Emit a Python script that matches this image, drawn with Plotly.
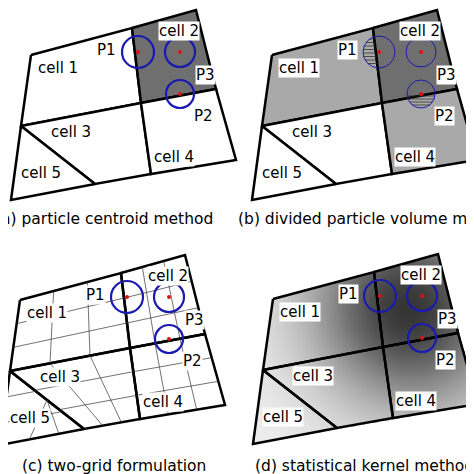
import numpy as np
import plotly.graph_objects as go

# mesh nodes (local pixel coords of one panel, y down)
node_names = ["A", "B", "C", "D", "E", "F", "G", "H", "I", "J"]
node_x = [23, 124, 188, 13, 133, 208, 3, 87, 143, 228]
node_y = [47, 20, 2, 118, 95, 81, 192, 176, 166, 152]

cell_names = ["cell 1", "cell 2", "cell 3", "cell 4", "cell 5"]
cell_nodes = [["A", "B", "E", "D"], ["B", "C", "F", "E"], ["D", "E", "I", "H"],
              ["E", "F", "J", "I"], ["D", "H", "G"]]
cell_label_x = [50, 171, 63, 166, 33]
cell_label_y = [60, 23, 124, 149, 165]

particle_names = ["P1", "P2", "P3"]
particle_x = [130, 172, 172]
particle_y = [44, 86, 44]
particle_r = [16, 14, 15]
plabel_x = [98, 195, 197]
plabel_y = [42, 108, 67]

panel_titles = ["(a) particle centroid method", "(b) divided particle volume method",
                "(c) two-grid formulation", "(d) statistical kernel method"]
panel_dx = [0, 241, -11, 242]
panel_dy = [0, 0, 245, 244]
title_x = [96, 228, 106, 356]
title_y = [211, 211, 458, 458]
title_anchor = ["center", "left", "center", "center"]

fill_a = ["white", "#6f6f6f", "white", "white", "white"]
fill_b = ["#a9a9a9", "#6f6f6f", "white", "#a9a9a9", "white"]

nx = dict(zip(node_names, node_x))
ny = dict(zip(node_names, node_y))

fig = go.Figure()


def poly(names, dx, dy):
    xs = [nx[n] + dx for n in names] + [nx[names[0]] + dx]
    ys = [ny[n] + dy for n in names] + [ny[names[0]] + dy]
    return xs, ys


def inside(px, py, xs, ys):
    res = np.zeros(px.shape, bool)
    n = len(xs) - 1
    for i in range(n):
        x1, y1, x2, y2 = xs[i], ys[i], xs[i + 1], ys[i + 1]
        cond = ((y1 > py) != (y2 > py)) & (px < (x2 - x1) * (py - y1) / (y2 - y1 + 1e-9) + x1)
        res ^= cond
    return res


def seg(x, y, w=0.7):
    fig.add_trace(go.Scatter(x=x, y=y, mode="lines", line=dict(color="#333", width=w), hoverinfo="skip"))


for p in range(4):
    dx, dy = panel_dx[p], panel_dy[p]

    # kernel shading for panel d
    if p == 3:
        gx = np.arange(0, 232, 2.0)
        gy = np.arange(0, 196, 2.0)
        X, Y = np.meshgrid(gx, gy)
        z = np.zeros_like(X)
        for cx, cy in zip(particle_x, particle_y):
            z += np.exp(-((X - cx) ** 2 + (Y - cy) ** 2) / (2 * 65.0 ** 2))
        ox, oy = poly(["A", "C", "J", "G"], 0, 0)
        z[~inside(X, Y, ox, oy)] = np.nan
        fig.add_trace(go.Heatmap(x=gx + dx, y=gy + dy, z=z, showscale=False, hoverinfo="skip",
                                 colorscale=[[0, "#ededed"], [1, "#353535"]]))

    for i, names in enumerate(cell_nodes):
        xs, ys = poly(names, dx, dy)
        fc = fill_a[i] if p == 0 else fill_b[i] if p == 1 else None
        fig.add_trace(go.Scatter(x=xs, y=ys, mode="lines", line=dict(color="black", width=2.5),
                                 fill="toself" if fc else None, fillcolor=fc, hoverinfo="skip"))

    # fine grid for panel c
    if p == 2:
        for names in cell_nodes[:4]:
            a, b, c, d = [(nx[n], ny[n]) for n in names]
            for t in (1 / 3, 2 / 3):
                p1 = (a[0] + t * (b[0] - a[0]), a[1] + t * (b[1] - a[1]))
                p2 = (d[0] + t * (c[0] - d[0]), d[1] + t * (c[1] - d[1]))
                p3 = (a[0] + t * (d[0] - a[0]), a[1] + t * (d[1] - a[1]))
                p4 = (b[0] + t * (c[0] - b[0]), b[1] + t * (c[1] - b[1]))
                for q1, q2 in ((p1, p2), (p3, p4)):
                    seg([q1[0] + dx, q2[0] + dx], [q1[1] + dy, q2[1] + dy])
        d_, h_, g_ = [(nx[n], ny[n]) for n in cell_nodes[4]]
        for t in (0.35, 0.7):
            q1 = (d_[0] + t * (h_[0] - d_[0]), d_[1] + t * (h_[1] - d_[1]))
            q2 = (d_[0] + t * (g_[0] - d_[0]), d_[1] + t * (g_[1] - d_[1]))
            q3 = (g_[0] + t * (h_[0] - g_[0]), g_[1] + t * (h_[1] - g_[1]))
            seg([q1[0] + dx, q2[0] + dx], [q1[1] + dy, q2[1] + dy])
            seg([q3[0] + dx, (d_[0] + h_[0]) / 2 + dx], [q3[1] + dy, (d_[1] + h_[1]) / 2 + dy])

    # hatching of the cut-off particle parts in panel b
    if p == 1:
        cx, cy, r = particle_x[0], particle_y[0], particle_r[0]
        for yy in np.arange(cy - r + 3, cy + r - 1, 3.5):
            half = np.sqrt(r ** 2 - (yy - cy) ** 2)
            xe = nx["B"] + (nx["E"] - nx["B"]) * (yy - ny["B"]) / (ny["E"] - ny["B"])
            seg([cx - half + dx, xe + dx], [yy + dy, yy + dy], 0.8)
        cx, cy, r = particle_x[1], particle_y[1], particle_r[1]
        for yy in np.arange(cy + 2, cy + r - 1, 3.0):
            half = np.sqrt(r ** 2 - (yy - cy) ** 2)
            seg([cx - half + dx, cx + half + dx], [yy + dy, yy + dy], 0.8)

    thin = p == 1
    for cx, cy, r in zip(particle_x, particle_y, particle_r):
        fig.add_shape(type="circle", x0=cx - r + dx, x1=cx + r + dx, y0=cy - r + dy, y1=cy + r + dy,
                      line=dict(color="#1a1ab0", width=1 if thin else 2.2))
    fig.add_trace(go.Scatter(x=[x + dx for x in particle_x], y=[y + dy for y in particle_y], mode="markers",
                             marker=dict(color="#e01010", size=4), hoverinfo="skip"))

    for name, lx, ly in zip(cell_names + particle_names, cell_label_x + plabel_x, cell_label_y + plabel_y):
        fig.add_annotation(x=lx + dx, y=ly + dy, text=name, showarrow=False, bgcolor="white", borderpad=0,
                           font=dict(size=15, color="black"))
    fig.add_annotation(x=title_x[p], y=title_y[p], text=panel_titles[p], showarrow=False,
                       xanchor=title_anchor[p], font=dict(size=15.5, color="black"))

fig.update_layout(width=474, height=474, margin=dict(l=0, r=0, t=0, b=0), showlegend=False,
                  paper_bgcolor="white", plot_bgcolor="white",
                  font=dict(family="DejaVu Sans"))
fig.update_xaxes(range=[0, 474], visible=False)
fig.update_yaxes(range=[474, 0], visible=False)
fig.write_html("out.html")
